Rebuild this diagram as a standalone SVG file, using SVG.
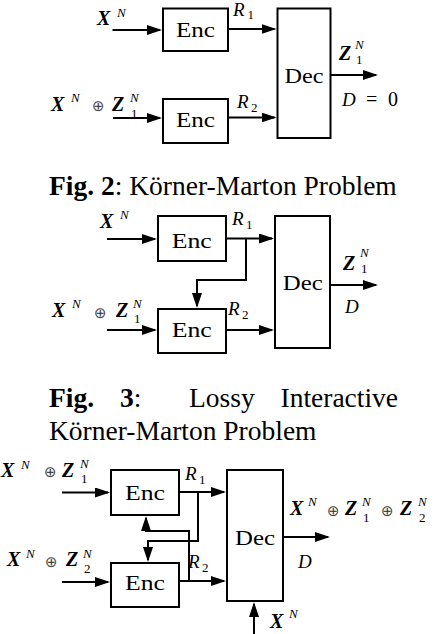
<svg xmlns="http://www.w3.org/2000/svg" width="448" height="634" viewBox="0 0 448 634" font-family="'Liberation Serif', Tinos, 'Times New Roman', 'DejaVu Serif', serif">
<style>
.box{fill:#fff;stroke:#000;stroke-width:2}
.ln{fill:none;stroke:#000;stroke-width:2;marker-end:url(#ah)}
text{font-family:'Liberation Serif', Tinos, 'Times New Roman', 'DejaVu Serif', serif;fill:#000}
.bl{font-size:22px;text-anchor:middle}
.bi{font-size:20px;font-weight:bold;font-style:italic}
.it{font-size:19px;font-style:italic}
.sup{font-size:13px;font-style:italic}
.sub{font-size:13px}
.rm{font-size:20px}
.op{font-family:'DejaVu Sans',sans-serif;font-size:15px;fill:#444}
.cap{font-size:27.5px}
.b{font-weight:bold}
</style>
<defs>
<marker id="ah" markerUnits="userSpaceOnUse" markerWidth="15" markerHeight="10" refX="13" refY="5" orient="auto">
<path d="M0,0 L15,5 L0,10 z" fill="#000"/>
</marker>
</defs>

<g id="fig2">
<g id="f2-enc1"><rect class="box" x="163" y="8.5" width="65" height="42.5"/><text class="bl" x="195.5" y="37" textLength="39" lengthAdjust="spacingAndGlyphs">Enc</text></g>
<g id="f2-enc2"><rect class="box" x="163" y="99" width="65" height="44"/><text class="bl" x="195.5" y="127" textLength="39" lengthAdjust="spacingAndGlyphs">Enc</text></g>
<g id="f2-dec"><rect class="box" x="277.5" y="8.5" width="53" height="129.5"/><text class="bl" x="304" y="83" textLength="39" lengthAdjust="spacingAndGlyphs">Dec</text></g>
<g id="f2-connectors">
<line class="ln" x1="112.5" y1="30" x2="160" y2="30"/>
<line class="ln" x1="228" y1="29" x2="274.5" y2="29"/>
<line class="ln" x1="113" y1="118" x2="160" y2="118"/>
<line class="ln" x1="228" y1="117.5" x2="274.5" y2="117.5"/>
<line class="ln" x1="331" y1="75" x2="376" y2="75"/>
</g>
<g id="f2-labels">
<text class="bi" x="97" y="25">X</text><text class="sup" x="117" y="17">N</text>
<text class="it" x="233" y="16">R</text><text class="sub" x="247.5" y="19">1</text>
<text class="bi" x="51" y="110.5">X</text><text class="sup" x="71" y="102">N</text>
<text class="op" x="92" y="111">⊕</text>
<text class="bi" x="112" y="110.5">Z</text><text class="sup" x="130" y="102">N</text><text class="sub" x="131" y="117.5">1</text>
<text class="it" x="237" y="108">R</text><text class="sub" x="251" y="111.5">2</text>
<text class="bi" x="339" y="59.5">Z</text><text class="sup" x="355" y="48.5">N</text><text class="sub" x="356" y="63.5">1</text>
<text class="it" x="342" y="106">D</text><text class="rm" x="366" y="106">=</text><text class="rm" x="388" y="106">0</text>
</g>
<text class="cap" x="49" y="195"><tspan class="b">Fig. 2</tspan>: Körner-Marton Problem</text>
</g>

<g id="fig3">
<g id="f3-enc1"><rect class="box" x="158" y="216" width="68" height="45"/><text class="bl" x="191.7" y="247.5" textLength="40" lengthAdjust="spacingAndGlyphs">Enc</text></g>
<g id="f3-enc2"><rect class="box" x="158" y="309" width="68" height="44"/><text class="bl" x="191.7" y="337" textLength="40" lengthAdjust="spacingAndGlyphs">Enc</text></g>
<g id="f3-dec"><rect class="box" x="275" y="216" width="55" height="132"/><text class="bl" x="302.7" y="290" textLength="40" lengthAdjust="spacingAndGlyphs">Dec</text></g>
<g id="f3-connectors">
<line class="ln" x1="107" y1="239" x2="155" y2="239"/>
<line class="ln" x1="226" y1="238.5" x2="272" y2="238.5"/>
<polyline class="ln" points="246,238.5 246,280 197,280 197,306"/>
<line class="ln" x1="107" y1="330" x2="155" y2="330"/>
<line class="ln" x1="226" y1="330" x2="272" y2="330"/>
<line class="ln" x1="330" y1="285" x2="376" y2="285"/>
</g>
<g id="f3-labels">
<text class="bi" x="100" y="228">X</text><text class="sup" x="120" y="218.5">N</text>
<text class="it" x="232" y="225">R</text><text class="sub" x="246" y="228.5">1</text>
<text class="bi" x="52" y="317">X</text><text class="sup" x="72" y="308">N</text>
<text class="op" x="94" y="318">⊕</text>
<text class="bi" x="116" y="317">Z</text><text class="sup" x="133" y="307.5">N</text><text class="sub" x="134" y="323">1</text>
<text class="it" x="228" y="315">R</text><text class="sub" x="242" y="318.5">2</text>
<text class="bi" x="343" y="270">Z</text><text class="sup" x="360" y="257">N</text><text class="sub" x="361" y="273">1</text>
<text class="it" x="345" y="312.5">D</text>
</g>
<text class="cap" y="407"><tspan class="b" x="49">Fig.</tspan><tspan class="b" x="120">3</tspan><tspan>:</tspan><tspan x="189">Lossy</tspan><tspan x="280.5">Interactive</tspan></text>
<text class="cap" x="49" y="440">Körner-Marton Problem</text>
</g>

<g id="fig4">
<g id="f4-enc1"><rect class="box" x="111" y="470" width="68" height="45"/><text class="bl" x="145" y="499.5" textLength="40" lengthAdjust="spacingAndGlyphs">Enc</text></g>
<g id="f4-enc2"><rect class="box" x="111" y="563" width="68" height="44"/><text class="bl" x="145" y="590" textLength="40" lengthAdjust="spacingAndGlyphs">Enc</text></g>
<g id="f4-dec"><rect class="box" x="227" y="470" width="56" height="131"/><text class="bl" x="255" y="545" textLength="40" lengthAdjust="spacingAndGlyphs">Dec</text></g>
<g id="f4-connectors">
<line class="ln" x1="62" y1="492.5" x2="108" y2="492.5"/>
<line class="ln" x1="179" y1="492" x2="224" y2="492"/>
<polyline class="ln" points="198,492 198,541 148,541 148,560"/>
<polyline class="ln" points="189,581 189,531 146,531 146,518"/>
<line class="ln" x1="62" y1="582" x2="108" y2="582"/>
<line class="ln" x1="179" y1="581" x2="224" y2="581"/>
<line class="ln" x1="283" y1="537" x2="328" y2="537"/>
<line class="ln" x1="254" y1="634" x2="254" y2="604"/>
</g>
<g id="f4-labels">
<text class="bi" x="1" y="476.5">X</text><text class="sup" x="21" y="468.5">N</text>
<text class="op" x="44" y="477">⊕</text>
<text class="bi" x="62" y="476.5">Z</text><text class="sup" x="80" y="467.5">N</text><text class="sub" x="81" y="483">1</text>
<text class="it" x="185" y="480">R</text><text class="sub" x="199" y="483.5">1</text>
<text class="bi" x="7" y="566">X</text><text class="sup" x="26" y="558">N</text>
<text class="op" x="45" y="567">⊕</text>
<text class="bi" x="66" y="566">Z</text><text class="sup" x="83" y="557.5">N</text><text class="sub" x="84" y="573">2</text>
<text class="it" x="188" y="568">R</text><text class="sub" x="202" y="571.5">2</text>
<text class="bi" x="290" y="515">X</text><text class="sup" x="308" y="506">N</text>
<text class="op" x="327" y="516">⊕</text>
<text class="bi" x="345" y="515">Z</text><text class="sup" x="362" y="506">N</text><text class="sub" x="363" y="522">1</text>
<text class="op" x="381" y="516">⊕</text>
<text class="bi" x="400" y="515">Z</text><text class="sup" x="418" y="506">N</text><text class="sub" x="419" y="522">2</text>
<text class="it" x="298" y="567.5">D</text>
<text class="bi" x="270" y="627.5">X</text><text class="sup" x="289" y="618">N</text>
</g>
</g>
</svg>
